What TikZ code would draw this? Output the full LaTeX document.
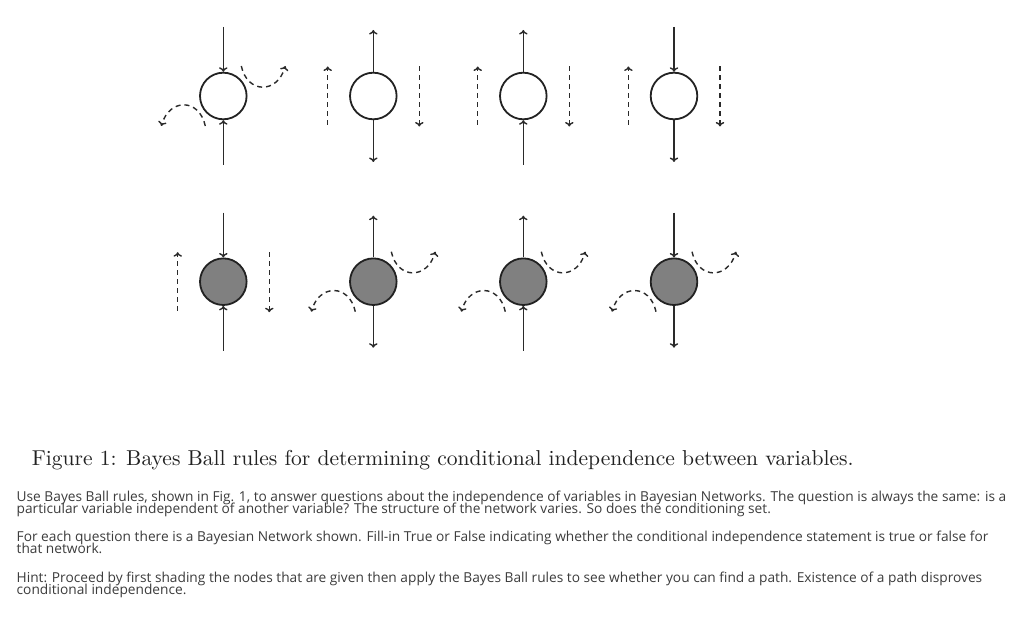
\documentclass[tikz,border=0pt]{standalone}
\usepackage{fontspec}
\newfontfamily\bodyfont{Open Sans}
\newfontfamily\capfont{lmroman10-regular}[Extension=.otf]
\usetikzlibrary{arrows.meta}
\definecolor{ink}{HTML}{2A2A2A}
\definecolor{ballgray}{HTML}{808080}
\definecolor{bodytext}{HTML}{3C3C3C}
\definecolor{captext}{HTML}{222222}
\tikzset{
  ball/.style={circle, draw=captext, line width=1.8pt, minimum size=46.6pt, inner sep=0pt},
  openball/.style={ball, fill=white},
  shadedball/.style={ball, fill=ballgray},
  sol/.style={draw=ink, line width=1.4pt, -{To[length=4.5pt,width=8.5pt]}},
  dsh/.style={draw=ink, line width=1.4pt, dash pattern=on 5pt off 4pt, -{To[length=4.5pt,width=8.5pt]}},
  bodyline/.style={anchor=base west, inner sep=0pt, text=bodytext, font=\bodyfont\fontsize{13.72}{15}\selectfont},
  capline/.style={anchor=base west, inner sep=0pt, text=captext, font=\capfont\fontsize{21.55}{24}\selectfont}
}
% #1 name, #2 x, #3 y, #4 style
\newcommand\BBnode[4]{%
  \node[#4] (#1) at (#2,#3) {};
  \coordinate (#1-ti) at (#2,#3-69);
  \coordinate (#1-to) at (#2,#3-66);
  \coordinate (#1-bi) at (#2,#3+69);
  \coordinate (#1-bo) at (#2,#3+66);
  \coordinate (#1-dla) at (#2-45.6,#3+29);
  \coordinate (#1-dlb) at (#2-45.6,#3-29.5);
  \coordinate (#1-dra) at (#2+46,#3-29.5);
  \coordinate (#1-drb) at (#2+46,#3+30.5);
  \coordinate (#1-ua) at (#2+18,#3-30);
  \coordinate (#1-ub) at (#2+24,#3-2);
  \coordinate (#1-uc) at (#2+54,#3-2);
  \coordinate (#1-ud) at (#2+62,#3-30);
  \coordinate (#1-la) at (#2-18,#3+30);
  \coordinate (#1-lb) at (#2-24,#3+2);
  \coordinate (#1-lc) at (#2-54,#3+2);
  \coordinate (#1-ld) at (#2-62,#3+30);
}
\newcommand\BBtopIn[1]{\draw[sol] (#1-ti) -- (#1.north);}
\newcommand\BBtopOut[1]{\draw[sol] (#1.north) -- (#1-to);}
\newcommand\BBbotIn[1]{\draw[sol] (#1-bi) -- (#1.south);}
\newcommand\BBbotOut[1]{\draw[sol] (#1.south) -- (#1-bo);}
\newcommand\BBside[1]{\draw[dsh] (#1-dla) -- (#1-dlb); \draw[dsh] (#1-dra) -- (#1-drb);}
\newcommand\BBcurve[1]{\draw[dsh] (#1-ua) .. controls (#1-ub) and (#1-uc) .. (#1-ud);
  \draw[dsh] (#1-la) .. controls (#1-lb) and (#1-lc) .. (#1-ld);}
\begin{document}
\begin{tikzpicture}[x=1pt,y=-1pt]
\useasboundingbox[fill=white] (0,0) rectangle (1024,617);
% row 1
\BBnode{n1}{223.3}{96}{openball}
\BBnode{n2}{373.3}{96}{openball}
\BBnode{n3}{523.3}{96}{openball}
\BBnode{n4}{674}{96}{openball}
% row 2
\BBnode{n5}{223.3}{281.7}{shadedball}
\BBnode{n6}{373.3}{281.7}{shadedball}
\BBnode{n7}{523.3}{281.7}{shadedball}
\BBnode{n8}{674}{281.7}{shadedball}
% node 1
\BBtopIn{n1}\BBbotIn{n1}\BBcurve{n1}
% node 2
\BBtopOut{n2}\BBbotOut{n2}\BBside{n2}
% node 3
\BBtopOut{n3}\BBbotIn{n3}\BBside{n3}
% node 4
\BBtopIn{n4}\BBbotOut{n4}\BBside{n4}
% node 5
\BBtopIn{n5}\BBbotIn{n5}\BBside{n5}
% node 6
\BBtopOut{n6}\BBbotOut{n6}\BBcurve{n6}
% node 7
\BBtopOut{n7}\BBbotIn{n7}\BBcurve{n7}
% node 8
\BBtopIn{n8}\BBbotOut{n8}\BBcurve{n8}
% texts
\node[capline] (cap) at (31.7,465.7) {Figure 1: Bayes Ball rules for determining conditional independence between variables.};
\node[bodyline] (p1a) at (16.5,501.7) {Use Bayes Ball rules, shown in Fig. 1, to answer questions about the independence of variables in Bayesian Networks. The question is always the same: is a};
\node[bodyline] (p1b) at (16.5,513.3) {particular variable independent of another variable? The structure of the network varies. So does the conditioning set.};
\node[bodyline] (p2a) at (16.5,541.7) {For each question there is a Bayesian Network shown. Fill-in True or False indicating whether the conditional independence statement is true or false for};
\node[bodyline] (p2b) at (16.5,553.0) {that network.};
\node[bodyline] (p3a) at (16.5,582.7) {Hint: Proceed by first shading the nodes that are given then apply the Bayes Ball rules to see whether you can find a path. Existence of a path disproves};
\node[bodyline] (p3b) at (16.5,594.2) {conditional independence.};
\end{tikzpicture}
\end{document}
